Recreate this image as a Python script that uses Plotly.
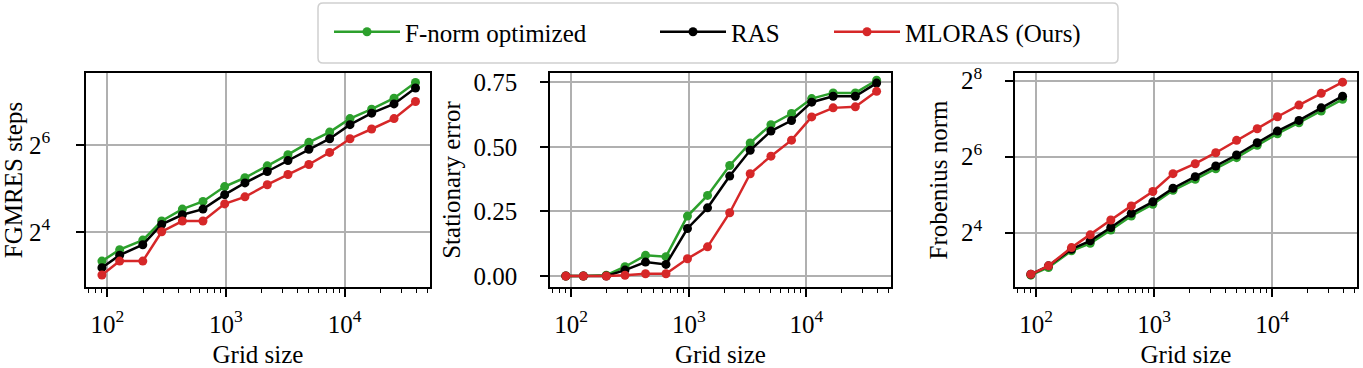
import plotly.graph_objects as go

# ---------------- data ----------------
grid_size = [90, 127, 199, 287, 429, 640, 975, 1445, 2230, 3330, 5000, 7480, 11100, 16900, 26100, 39600]

fgmres_fnorm = [10, 12, 14, 19, 23, 26, 33, 38, 46, 55, 67, 79, 98, 114, 136, 175]
fgmres_ras = [9, 11, 13, 18, 21, 23, 29, 35, 42, 50, 60, 71, 89, 107, 124, 160]
fgmres_mloras = [8, 10, 10, 16, 19, 19, 25, 28, 34, 40, 47, 57, 71, 83, 98, 129]

stat_fnorm = [0, 0, 0.003, 0.036, 0.080, 0.075, 0.232, 0.312, 0.428, 0.515, 0.586, 0.629, 0.687, 0.709, 0.709, 0.758]
stat_ras = [0, 0, 0, 0.023, 0.054, 0.045, 0.184, 0.264, 0.387, 0.487, 0.561, 0.602, 0.673, 0.696, 0.696, 0.747]
stat_mloras = [0, 0, 0, 0.003, 0.009, 0.009, 0.067, 0.113, 0.245, 0.396, 0.464, 0.526, 0.616, 0.651, 0.655, 0.715]

frob_fnorm = [7.38, 8.49, 11.5, 13.2, 16.8, 21.7, 26.9, 34.7, 42.4, 51.4, 62.9, 78.7, 97.3, 118.8, 147, 182]
frob_ras = [7.5, 8.75, 11.85, 13.8, 17.6, 22.8, 28.1, 36, 44.5, 54, 66, 82.6, 102, 124, 156, 193]
frob_mloras = [7.5, 8.75, 12.2, 15.4, 20.2, 26.1, 33.9, 47, 56.3, 68.8, 86.2, 106.5, 132.5, 164, 203, 249]

series_names = ["F-norm optimized", "RAS", "MLORAS (Ours)"]
series_colors = ["#2ca02c", "#000000", "#d62728"]

x_tickvals = [100, 1000, 10000]
x_ticktext = ["10<sup>2</sup>", "10<sup>3</sup>", "10<sup>4</sup>"]
x_minor = [70, 80, 90, 200, 300, 400, 500, 600, 700, 800, 900,
           2000, 3000, 4000, 5000, 6000, 7000, 8000, 9000,
           20000, 30000, 40000, 50000]

y1_tickvals = [16, 64]
y1_ticktext = ["2<sup>4</sup>", "2<sup>6</sup>"]
y2_tickvals = [0.0, 0.25, 0.5, 0.75]
y2_ticktext = ["0.00", "0.25", "0.50", "0.75"]
y3_tickvals = [16, 64, 256]
y3_ticktext = ["2<sup>4</sup>", "2<sup>6</sup>", "2<sup>8</sup>"]

panels = [
    ("FGMRES steps", [fgmres_fnorm, fgmres_ras, fgmres_mloras]),
    ("Stationary error", [stat_fnorm, stat_ras, stat_mloras]),
    ("Frobenius norm", [frob_fnorm, frob_ras, frob_mloras]),
]

FONT = "Liberation Serif"
FS = 25
W, H = 1363, 368

legend_ids = ["legend", "legend2", "legend3"]
legend_x_px = [329, 655, 829]

fig = go.Figure()
for p, (ylabel, series) in enumerate(panels):
    xa = "x" if p == 0 else f"x{p+1}"
    ya = "y" if p == 0 else f"y{p+1}"
    for s, vals in enumerate(series):
        fig.add_trace(go.Scatter(
            x=grid_size, y=vals, mode="lines+markers",
            name=series_names[s], legendgroup=series_names[s],
            showlegend=(p == 0), legend=legend_ids[s],
            line=dict(color=series_colors[s], width=2.5),
            marker=dict(color=series_colors[s], size=9),
            xaxis=xa, yaxis=ya,
        ))

# domains in pixels
x_dom_px = [(86, 430), (550, 891), (1015, 1357)]
y_dom = [1 - 287 / H, 1 - 73 / H]

common_axis = dict(
    showline=True, linecolor="black", linewidth=1.5, mirror=True,
    showgrid=True, gridcolor="#b0b0b0", gridwidth=1.5,
    ticks="outside", ticklen=8, tickwidth=1.5, tickcolor="black",
    zeroline=False, automargin=False,
    tickfont=dict(family=FONT, size=FS, color="black"),
)

layout = dict(
    width=W, height=H,
    margin=dict(l=0, r=0, t=0, b=0, autoexpand=False),
    paper_bgcolor="white", plot_bgcolor="white",
    font=dict(family=FONT, size=FS, color="black"),
)
for i, lid in enumerate(legend_ids):
    layout[lid] = dict(
        orientation="h", x=legend_x_px[i] / W, xanchor="left",
        y=1 - 32 / H, yanchor="middle",
        borderwidth=0, bgcolor="rgba(0,0,0,0)",
        font=dict(family=FONT, size=FS, color="black"),
        itemwidth=66,
    )

# legend frame
bx0, bx1, by0, by1, rad = 318 / W, 1118 / W, 1 - 63 / H, 1 - 3 / H, 5
rx, ry = rad / W, rad / H
frame_path = (f"M {bx0+rx},{by1} L {bx1-rx},{by1} Q {bx1},{by1} {bx1},{by1-ry} "
              f"L {bx1},{by0+ry} Q {bx1},{by0} {bx1-rx},{by0} L {bx0+rx},{by0} "
              f"Q {bx0},{by0} {bx0},{by0+ry} L {bx0},{by1-ry} Q {bx0},{by1} {bx0+rx},{by1} Z")
layout["shapes"] = [dict(type="path", xref="paper", yref="paper", path=frame_path,
                         line=dict(color="#d0d0d0", width=1.5), fillcolor="white", layer="below")]

y_ranges = [
    [2.723 * 0.30103, 7.669 * 0.30103],
    [-0.0425, 0.786],
    [2.573 * 0.30103, 8.201 * 0.30103],
]
y_types = ["log", "linear", "log"]
y_ticks = [(y1_tickvals, y1_ticktext), (y2_tickvals, y2_ticktext), (y3_tickvals, y3_ticktext)]
y_label_standoff = [21, 18, 18]

for p in range(3):
    xk = "xaxis" if p == 0 else f"xaxis{p+1}"
    yk = "yaxis" if p == 0 else f"yaxis{p+1}"
    ya = "y" if p == 0 else f"y{p+1}"
    xa = "x" if p == 0 else f"x{p+1}"
    layout[xk] = dict(
        common_axis,
        domain=[x_dom_px[p][0] / W, x_dom_px[p][1] / W],
        anchor=ya, type="log", range=[1.82, 4.72],
        tickmode="array", tickvals=x_tickvals, ticktext=x_ticktext,
        ticklabelstandoff=6,
        minor=dict(tickmode="array", tickvals=x_minor, ticks="outside",
                   ticklen=4.5, tickwidth=1.2, tickcolor="black", showgrid=False),
        title=dict(text="Grid size", font=dict(family=FONT, size=FS), standoff=21),
    )
    layout[yk] = dict(
        common_axis,
        domain=y_dom, anchor=xa, type=y_types[p], range=y_ranges[p],
        tickmode="array", tickvals=y_ticks[p][0], ticktext=y_ticks[p][1],
        ticklabelstandoff=y_label_standoff[p],
        title=dict(text=panels[p][0], font=dict(family=FONT, size=FS), standoff=6),
    )

fig.update_layout(**layout)
fig.write_html("out.html", config={"displayModeBar": False})

# remove the browser's default page margin so the figure fills the window
with open("out.html", "r", encoding="utf-8") as f:
    html = f.read()
html = html.replace("<head>", "<head><style>html,body{margin:0;padding:0;overflow:hidden;}</style>", 1)
with open("out.html", "w", encoding="utf-8") as f:
    f.write(html)
